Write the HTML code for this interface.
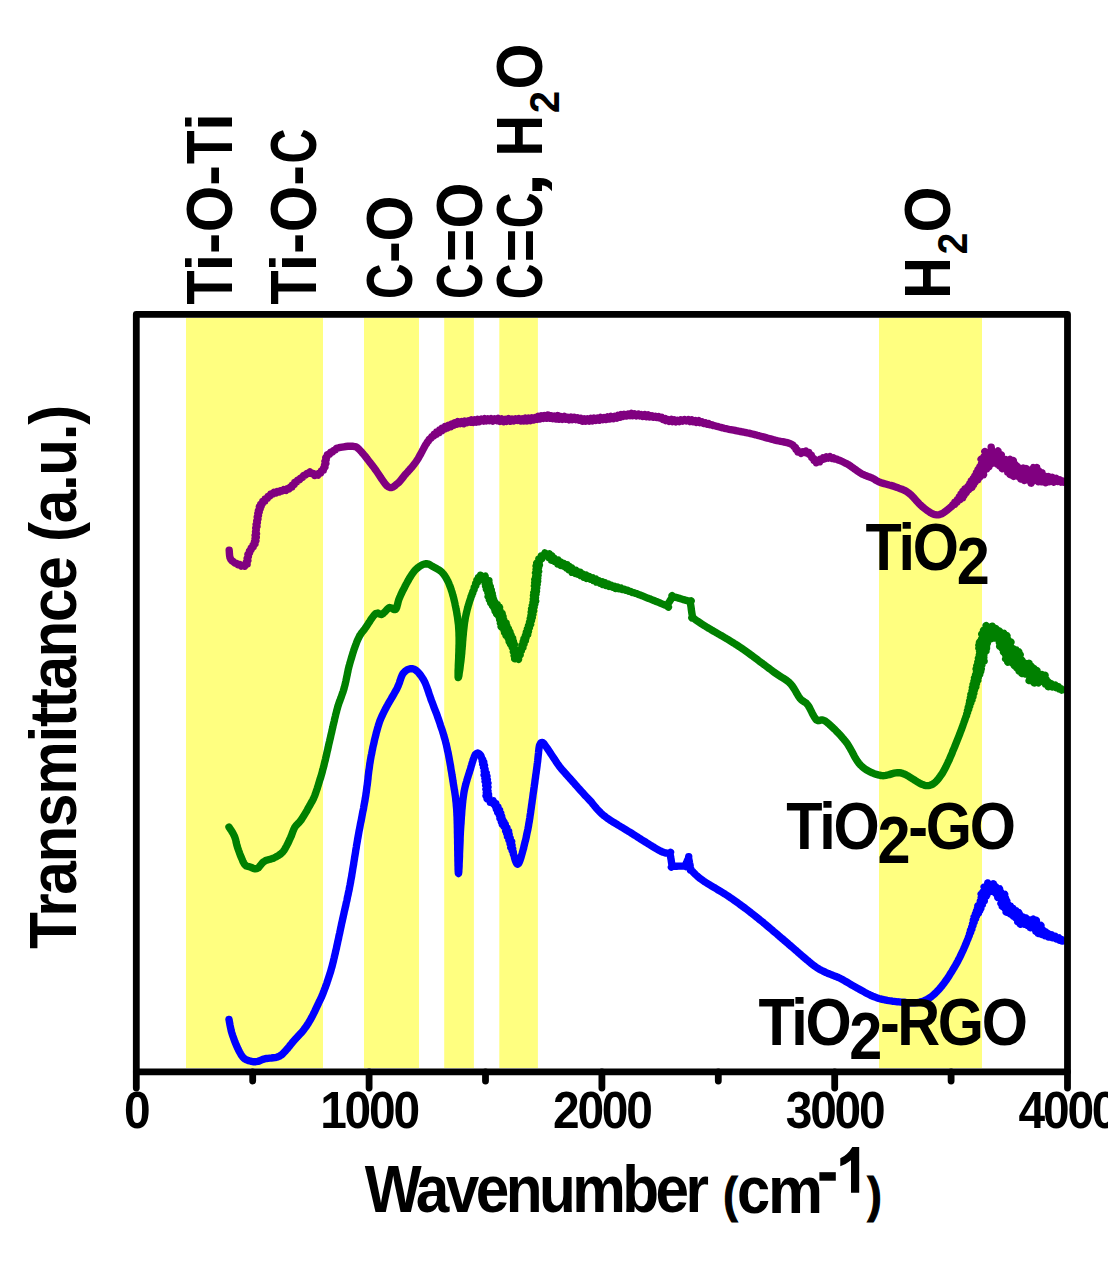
<!DOCTYPE html>
<html><head><meta charset="utf-8"><style>
html,body{margin:0;padding:0;background:#fff;width:1108px;height:1261px;overflow:hidden}
svg{position:absolute;left:0;top:0}
text{font-family:"Liberation Sans",sans-serif;font-weight:bold;fill:#000}
</style></head><body>
<svg width="1108" height="1261" viewBox="0 0 1108 1261">
<g fill="#ffff80">
<rect x="186" y="318" width="137" height="750"/>
<rect x="364" y="318" width="55" height="750"/>
<rect x="444.2" y="318" width="29.7" height="750"/>
<rect x="499.3" y="318" width="38.6" height="750"/>
<rect x="879" y="318" width="103" height="750"/>
</g>
<g fill="none" stroke-width="7.4" stroke-linejoin="round" stroke-linecap="round">
<path d="M229.2 550.2 L229.3 551.5 L229.4 553.4 L229.6 555.6 L230.0 557.7 L230.8 559.4 L231.8 560.6 L233.3 561.6 L234.7 563.0 L236.6 563.3 L237.8 564.8 L239.7 564.4 L241.2 566.1 L243.1 565.2 L244.8 566.2 L245.5 564.3 L247.1 564.0 L246.4 562.0 L247.9 560.6 L247.1 558.4 L248.4 556.6 L247.9 554.4 L249.6 553.0 L249.4 551.0 L251.0 549.9 L251.1 547.9 L253.2 547.1 L253.0 545.0 L255.0 544.0 L254.4 541.9 L255.9 540.6 L255.0 538.8 L256.3 537.2 L255.1 535.4 L256.5 533.7 L255.5 531.8 L256.3 530.0 L255.7 528.0 L257.0 526.4 L256.1 524.5 L257.4 522.8 L256.7 520.8 L258.0 519.0 L257.2 517.0 L258.5 515.4 L257.8 513.5 L259.2 512.2 L258.4 510.6 L260.2 508.8 L259.4 506.8 L261.2 506.1 L260.7 504.2 L262.6 503.4 L262.7 501.5 L264.9 501.1 L265.1 498.8 L267.4 498.4 L268.0 496.3 L270.0 496.0 L270.6 494.0 L272.7 494.0 L273.9 492.3 L275.9 493.1 L277.3 491.5 L279.2 492.1 L280.5 490.6 L282.4 491.0 L283.8 489.6 L285.8 490.5 L287.0 488.8 L289.0 489.0 L290.0 487.3 L291.9 487.1 L292.2 485.1 L294.3 484.6 L294.6 482.4 L296.8 481.9 L297.5 480.1 L299.6 479.8 L300.5 478.0 L302.6 477.5 L303.6 475.4 L305.7 475.1 L306.8 473.4 L308.7 473.4 L309.9 471.9 L311.6 473.5 L313.5 473.5 L314.6 475.5 L316.4 474.5 L317.9 475.1 L318.8 473.2 L320.8 473.0 L321.3 470.8 L323.4 470.2 L323.5 468.1 L325.0 467.1 L324.5 465.1 L325.9 463.4 L324.9 461.4 L326.2 459.7 L325.7 457.8 L327.0 456.8 L327.3 454.6 L329.6 454.2 L330.5 452.3 L332.4 452.1 L333.4 450.7 L335.3 449.9 L336.5 448.4 L339.0 447.7 L340.4 447.4 L342.1 447.1 L344.0 446.8 L345.9 446.5 L347.9 446.3 L349.9 446.2 L351.6 446.2 L353.1 446.3 L354.9 446.6 L356.1 446.9 L357.2 447.6 L358.4 448.7 L360.2 450.5 L361.0 451.3 L361.8 452.3 L362.8 453.4 L363.7 454.5 L364.7 455.7 L365.8 457.0 L366.8 458.4 L367.9 459.8 L369.0 461.2 L370.1 462.6 L371.2 464.0 L372.2 465.4 L373.3 466.8 L374.3 468.1 L375.3 469.5 L376.3 470.9 L377.4 472.5 L378.4 474.0 L379.5 475.6 L380.5 477.2 L381.6 478.8 L382.6 480.3 L383.6 481.8 L384.6 483.1 L385.6 484.3 L386.5 485.4 L387.4 486.2 L388.3 486.9 L390.2 487.6 L391.9 487.5 L393.4 486.8 L394.9 485.7 L396.3 484.4 L397.7 483.3 L399.0 482.3 L400.1 481.1 L401.1 479.8 L402.2 478.4 L403.4 476.9 L404.8 475.1 L405.7 474.1 L406.6 473.0 L407.7 471.9 L408.7 470.7 L409.8 469.5 L410.9 468.2 L412.1 466.9 L413.2 465.5 L414.3 464.1 L415.4 462.6 L416.5 461.1 L417.3 459.8 L418.2 458.5 L419.0 457.0 L419.8 455.5 L420.7 454.0 L421.5 452.4 L422.3 450.9 L423.2 449.3 L424.0 447.8 L424.8 446.3 L425.6 444.8 L426.6 443.5 L427.2 442.1 L428.3 441.2 L429.2 439.2 L431.0 438.3 L431.7 436.6 L433.7 436.2 L434.2 434.2 L436.3 434.3 L436.7 432.0 L439.1 432.6 L439.6 429.9 L441.9 430.8 L442.2 428.1 L444.6 429.0 L445.2 426.4 L447.7 427.8 L448.5 425.3 L450.9 426.7 L451.7 424.1 L453.7 425.1 L454.6 422.7 L456.6 424.2 L457.9 421.6 L460.2 423.6 L461.6 421.6 L463.6 423.7 L464.9 421.0 L466.8 422.7 L468.3 420.8 L470.1 422.2 L471.5 419.9 L473.3 422.3 L474.6 419.9 L476.2 422.0 L477.7 419.4 L479.5 421.7 L481.3 419.2 L483.5 421.0 L484.8 418.7 L486.3 420.8 L487.8 418.8 L489.5 420.7 L491.1 418.6 L492.9 421.1 L494.5 418.9 L496.4 420.5 L498.1 418.4 L500.0 421.3 L501.7 419.0 L503.5 421.6 L505.2 419.3 L506.9 421.3 L508.6 418.7 L510.3 421.2 L512.0 419.1 L513.7 420.8 L515.4 418.8 L517.1 420.3 L518.8 418.6 L520.5 420.9 L522.2 418.8 L523.9 420.9 L525.5 418.1 L527.2 420.9 L528.7 418.1 L530.5 420.5 L532.0 418.0 L533.8 419.8 L535.2 417.6 L537.1 419.3 L538.2 416.3 L540.2 418.9 L541.3 415.7 L543.3 418.3 L544.6 415.7 L546.5 418.2 L547.9 415.0 L549.8 418.2 L551.5 415.9 L553.0 418.6 L554.5 416.1 L555.9 419.0 L557.8 415.5 L559.1 419.2 L561.0 416.7 L562.4 419.3 L564.4 416.3 L565.8 419.2 L567.7 417.3 L569.1 419.8 L571.0 417.1 L572.4 419.6 L574.3 417.5 L575.7 419.5 L577.4 417.9 L579.0 420.2 L580.8 418.5 L582.4 421.2 L584.2 418.8 L585.8 421.2 L587.5 418.9 L589.2 421.1 L590.9 418.4 L592.5 420.8 L594.1 418.1 L595.8 420.3 L597.4 418.2 L599.2 420.2 L600.7 417.4 L602.6 419.5 L604.1 417.6 L606.1 419.4 L607.6 417.0 L609.7 418.9 L611.1 416.4 L613.4 418.7 L614.8 416.3 L616.9 418.0 L618.1 415.4 L620.1 417.1 L621.3 414.6 L623.0 416.4 L624.2 414.3 L626.5 416.0 L628.2 414.1 L630.0 415.5 L631.4 413.4 L632.9 415.7 L634.5 413.8 L636.2 415.8 L638.3 414.2 L639.7 415.8 L641.3 414.6 L642.8 416.4 L644.7 414.6 L646.2 416.7 L648.2 415.0 L649.8 417.0 L651.8 415.7 L653.3 417.3 L655.2 416.2 L656.6 417.5 L658.3 416.6 L659.4 417.9 L661.7 417.3 L662.9 419.5 L665.0 418.6 L665.8 420.6 L667.8 419.5 L669.1 421.3 L671.4 419.5 L672.6 421.6 L674.2 419.8 L675.8 421.8 L677.4 420.4 L679.3 421.7 L680.9 419.8 L682.8 421.1 L684.6 419.5 L686.4 421.0 L688.2 419.7 L689.9 421.5 L691.7 419.9 L693.1 421.7 L695.1 420.6 L696.5 422.3 L698.7 420.7 L700.0 422.7 L702.1 421.7 L703.5 423.5 L705.4 422.8 L706.8 424.2 L708.6 423.6 L709.9 424.9 L711.8 424.6 L713.3 425.6 L714.9 425.6 L716.3 426.4 L717.8 426.5 L719.3 427.0 L720.9 427.4 L722.5 427.8 L724.3 428.3 L726.2 428.7 L727.6 429.0 L729.0 429.3 L730.6 429.6 L732.1 429.9 L733.7 430.2 L735.4 430.5 L737.0 430.8 L738.7 431.2 L740.4 431.5 L742.2 431.8 L743.9 432.2 L745.6 432.5 L747.3 432.9 L749.0 433.2 L750.6 433.6 L752.2 434.0 L753.9 434.4 L755.6 434.8 L757.3 435.3 L759.0 435.7 L760.8 436.2 L762.5 436.7 L764.2 437.1 L765.8 437.6 L767.5 438.1 L769.1 438.5 L770.6 438.9 L772.2 439.3 L773.6 439.7 L775.0 440.1 L777.0 440.6 L778.9 441.0 L780.7 441.4 L782.5 441.7 L784.1 442.0 L785.7 442.3 L787.2 442.7 L788.6 443.1 L789.9 443.5 L791.2 444.2 L792.9 445.0 L793.9 446.6 L795.5 447.5 L795.9 449.5 L797.5 450.2 L797.9 452.0 L799.5 451.9 L801.0 453.3 L802.6 451.8 L804.2 452.6 L805.9 451.1 L807.1 453.1 L809.0 452.6 L809.3 454.7 L811.5 455.2 L811.7 457.6 L813.8 458.4 L814.0 460.6 L815.7 461.0 L816.3 462.8 L817.8 461.7 L819.6 461.8 L820.2 459.3 L822.5 459.5 L823.2 457.8 L825.0 458.7 L826.3 456.8 L828.1 458.1 L829.9 456.7 L831.7 458.5 L833.3 457.8 L834.6 459.0 L836.4 458.9 L837.9 459.9 L839.7 460.4 L841.4 461.2 L843.1 461.9 L844.8 462.8 L846.5 463.6 L848.0 464.4 L849.5 465.4 L851.0 466.4 L852.5 467.5 L854.0 468.6 L855.5 469.6 L857.0 470.7 L858.4 471.7 L859.8 472.6 L861.1 473.4 L862.9 474.4 L864.7 475.2 L866.4 475.8 L868.1 476.5 L869.6 477.0 L871.1 477.6 L872.5 478.2 L874.1 479.0 L875.3 479.8 L876.5 480.6 L877.9 481.4 L880.0 482.3 L881.2 482.7 L882.6 483.2 L884.1 483.6 L885.7 484.0 L887.4 484.5 L889.1 485.0 L890.8 485.4 L892.5 485.9 L894.2 486.4 L895.7 486.9 L897.1 487.4 L898.8 488.1 L900.4 488.7 L901.9 489.2 L903.4 489.9 L904.8 490.5 L906.2 491.3 L907.6 492.3 L909.2 493.4 L910.3 494.3 L911.4 495.3 L912.5 496.4 L913.6 497.6 L914.8 498.9 L915.9 500.2 L917.1 501.5 L918.3 502.8 L919.4 504.0 L920.6 505.2 L921.8 506.2 L922.9 507.2 L924.4 508.4 L926.0 509.6 L927.5 510.7 L929.1 511.8 L930.6 512.8 L932.2 513.6 L933.7 514.2 L935.2 514.7 L936.6 514.9 L938.1 514.9 L939.6 514.6 L941.0 514.1 L942.4 513.5 L943.8 512.6 L945.3 511.5 L946.9 510.3 L948.6 508.9 L949.6 508.1 L950.6 507.1 L951.9 506.3 L952.7 504.7 L954.6 504.4 L954.8 502.2 L957.1 502.0 L957.4 499.8 L959.9 499.7 L959.4 496.8 L962.8 497.7 L961.1 493.8 L964.5 494.7 L963.0 491.2 L966.5 492.4 L965.1 488.7 L968.9 489.4 L968.0 486.4 L972.0 487.4 L969.9 483.6 L973.7 484.4 L971.4 480.7 L975.4 481.6 L973.5 478.3 L978.0 479.5 L975.0 475.6 L980.0 476.7 L976.6 472.4 L983.6 474.6 L978.2 469.3 L984.1 470.8 L980.0 466.5 L986.9 468.7 L981.6 463.6 L989.1 466.6 L981.1 459.3 L991.5 463.5 L984.0 456.5 L992.9 460.6 L984.9 451.6 L992.4 458.1 L991.2 447.1 L992.5 458.4 L998.0 451.0 L994.0 460.6 L1001.3 454.8 L997.1 464.1 L1002.2 459.4 L999.9 466.3 L1005.8 459.7 L1002.4 468.7 L1010.0 459.4 L1006.1 469.1 L1013.3 460.6 L1007.9 472.5 L1015.0 464.4 L1010.2 474.7 L1017.4 466.5 L1013.5 476.4 L1019.8 468.5 L1018.1 476.3 L1023.3 468.1 L1021.0 479.1 L1026.3 468.6 L1024.5 480.5 L1029.4 470.0 L1028.4 480.3 L1033.5 467.7 L1031.2 483.2 L1036.8 467.6 L1035.5 480.3 L1039.2 471.1 L1038.6 481.9 L1042.1 472.8 L1042.3 481.8 L1045.4 476.5 L1045.8 482.7 L1048.6 476.6 L1049.7 481.7 L1052.4 477.3 L1053.7 482.1 L1056.3 478.5 L1057.7 481.4 L1059.8 479.9 L1061.0 482.0 L1062.5 481.0 L1063.4 482.0" stroke="#800080"/>
<path d="M229.0 827.1 L229.6 828.0 L230.5 829.3 L231.5 830.8 L232.5 832.5 L233.5 834.3 L234.4 836.1 L234.9 837.5 L235.4 838.9 L235.8 840.4 L236.1 842.0 L236.5 843.6 L236.9 845.3 L237.4 847.0 L238.0 848.7 L238.5 850.2 L239.1 851.8 L239.7 853.5 L240.4 855.3 L241.1 857.0 L241.8 858.7 L242.5 860.3 L243.1 861.8 L243.8 863.1 L244.4 864.1 L246.2 866.0 L247.9 866.4 L249.8 866.8 L251.5 867.5 L253.3 868.3 L255.2 868.8 L257.0 868.6 L258.2 867.9 L259.3 866.7 L260.4 865.3 L261.6 863.9 L262.8 862.5 L264.2 861.4 L265.7 860.6 L267.4 860.0 L269.1 859.5 L270.8 859.1 L272.6 858.5 L274.2 857.8 L275.8 857.0 L277.3 856.1 L278.9 855.2 L280.4 854.2 L281.8 852.9 L283.2 851.4 L284.1 850.2 L285.0 848.8 L285.8 847.3 L286.7 845.7 L287.5 844.1 L288.3 842.5 L289.0 840.9 L289.7 839.3 L290.4 837.9 L291.2 836.2 L291.8 834.5 L292.4 832.9 L293.0 831.3 L293.6 829.8 L294.2 828.4 L294.9 827.1 L296.0 825.6 L297.2 824.4 L298.4 823.2 L299.7 821.8 L301.2 819.9 L301.9 818.8 L302.7 817.5 L303.6 816.2 L304.5 814.7 L305.4 813.2 L306.3 811.7 L307.2 810.1 L308.0 808.6 L308.8 807.1 L309.6 805.8 L310.3 804.5 L311.2 802.8 L312.0 801.5 L312.7 800.2 L313.3 799.0 L313.9 797.6 L314.7 795.8 L315.5 793.5 L315.9 792.3 L316.3 791.1 L316.8 789.7 L317.3 788.3 L317.7 786.8 L318.2 785.3 L318.7 783.7 L319.2 782.0 L319.7 780.3 L320.3 778.6 L320.8 776.9 L321.3 775.2 L321.8 773.4 L322.3 771.7 L322.7 769.9 L323.2 768.2 L323.6 766.7 L324.0 765.3 L324.3 763.8 L324.7 762.2 L325.1 760.7 L325.5 759.1 L325.8 757.6 L326.2 756.0 L326.6 754.4 L326.9 752.8 L327.3 751.2 L327.7 749.6 L328.0 748.0 L328.4 746.4 L328.7 744.8 L329.1 743.2 L329.5 741.6 L329.8 740.1 L330.2 738.5 L330.6 736.9 L330.9 735.3 L331.3 733.7 L331.7 732.1 L332.0 730.5 L332.4 728.9 L332.8 727.2 L333.1 725.6 L333.5 724.0 L333.9 722.4 L334.3 720.8 L334.6 719.2 L335.0 717.6 L335.4 716.1 L335.7 714.6 L336.1 713.1 L336.5 711.7 L336.8 710.3 L337.2 708.9 L337.7 707.0 L338.3 705.2 L338.8 703.5 L339.4 701.9 L340.0 700.4 L340.5 698.9 L341.1 697.4 L341.6 695.9 L342.1 694.4 L342.7 692.8 L343.2 691.3 L343.7 689.6 L344.2 687.9 L344.6 686.4 L345.0 684.8 L345.4 683.2 L345.8 681.5 L346.1 679.9 L346.5 678.2 L346.8 676.5 L347.2 674.8 L347.5 673.1 L347.9 671.4 L348.2 669.7 L348.6 668.1 L349.0 666.4 L349.5 664.7 L349.9 663.1 L350.4 661.5 L350.9 659.8 L351.4 658.1 L351.9 656.4 L352.4 654.7 L352.9 652.9 L353.5 651.2 L354.0 649.6 L354.6 647.9 L355.2 646.3 L355.7 644.8 L356.3 643.3 L356.8 641.9 L357.4 640.5 L357.9 639.3 L358.9 637.3 L359.8 635.5 L360.8 634.1 L361.7 632.7 L362.7 631.5 L363.7 630.2 L364.7 628.9 L365.8 627.4 L366.7 626.0 L367.7 624.5 L368.7 622.9 L369.8 621.3 L370.9 619.6 L371.9 618.1 L373.0 616.6 L373.9 615.4 L374.9 614.3 L375.7 613.5 L377.9 613.0 L379.7 614.2 L381.7 614.5 L382.9 613.7 L384.3 612.4 L385.7 610.9 L387.0 609.5 L388.4 608.2 L389.6 607.5 L391.8 608.0 L393.8 609.5 L395.6 609.5 L396.2 608.6 L396.8 607.2 L397.2 605.6 L397.7 603.7 L398.2 601.7 L398.8 599.6 L399.6 597.6 L400.2 596.3 L400.8 594.9 L401.5 593.4 L402.2 591.9 L402.9 590.4 L403.7 588.9 L404.5 587.4 L405.2 585.9 L406.0 584.4 L406.8 583.0 L407.5 581.7 L408.5 580.0 L409.4 578.3 L410.4 576.7 L411.4 575.1 L412.4 573.7 L413.4 572.3 L414.4 571.0 L415.5 569.8 L416.8 568.6 L418.2 567.4 L419.7 566.3 L421.2 565.4 L422.7 564.7 L424.1 564.1 L425.4 563.8 L427.1 563.8 L428.6 564.2 L430.1 564.9 L431.6 565.8 L433.3 566.8 L434.6 567.5 L436.1 568.3 L437.5 569.1 L439.1 570.0 L440.5 571.0 L442.0 572.3 L443.3 573.8 L444.1 574.9 L444.9 576.0 L445.7 577.2 L446.4 578.5 L447.1 579.8 L447.9 581.2 L448.6 582.7 L449.2 584.3 L449.9 586.0 L450.6 587.8 L451.2 589.6 L451.6 590.9 L452.1 592.4 L452.5 593.9 L452.9 595.4 L453.4 597.0 L453.8 598.7 L454.2 600.3 L454.6 602.0 L455.0 603.8 L455.3 605.5 L455.7 607.2 L456.0 608.9 L456.4 610.6 L456.7 612.3 L456.9 613.9 L457.2 615.5 L457.5 617.2 L457.7 618.9 L457.9 620.5 L458.1 622.0 L458.3 623.6 L458.5 625.1 L458.6 626.7 L458.7 628.2 L458.8 629.9 L458.9 631.5 L459.0 633.3 L459.0 635.2 L459.1 637.2 L459.1 639.3 L459.1 640.7 L459.1 642.3 L459.1 643.9 L459.0 645.7 L459.0 647.6 L458.9 649.5 L458.9 651.5 L458.8 653.6 L458.7 655.6 L458.7 657.7 L458.6 659.7 L458.5 661.8 L458.4 663.7 L458.3 665.6 L458.3 667.5 L458.2 669.2 L458.1 670.8 L458.1 672.2 L458.1 673.6 L458.1 674.7 L458.1 675.7 L458.1 676.5 L458.1 677.0 L458.2 677.5 L458.4 677.4 L458.6 676.7 L458.9 675.5 L459.1 673.9 L459.4 671.8 L459.8 669.6 L460.1 667.1 L460.4 664.4 L460.8 661.8 L461.1 659.1 L461.2 657.9 L461.4 656.5 L461.5 655.1 L461.7 653.6 L461.8 652.0 L461.9 650.4 L462.1 648.8 L462.2 647.0 L462.4 645.3 L462.5 643.5 L462.6 641.7 L462.8 639.9 L462.9 638.0 L463.1 636.2 L463.3 634.4 L463.4 632.6 L463.6 630.8 L463.8 629.0 L464.0 627.3 L464.2 625.6 L464.4 623.9 L464.6 622.4 L464.9 620.8 L465.1 619.4 L465.4 617.5 L465.8 615.7 L466.2 613.9 L466.6 612.2 L467.0 610.5 L467.4 608.8 L467.9 607.1 L468.3 605.5 L468.8 604.0 L469.3 602.4 L469.7 600.9 L470.2 599.5 L470.8 598.1 L471.0 596.6 L471.8 595.4 L471.9 594.0 L472.8 592.9 L472.8 591.5 L474.1 589.6 L474.2 587.3 L475.8 585.7 L475.6 583.4 L477.5 582.3 L476.9 580.0 L479.1 579.5 L478.5 577.4 L481.0 578.3 L480.7 575.3 L482.2 577.5 L485.2 576.2 L484.1 580.3 L488.9 580.7 L485.3 583.6 L489.2 583.8 L485.7 586.3 L490.3 587.0 L486.5 589.5 L491.3 590.4 L488.0 593.0 L492.2 593.8 L488.2 596.7 L492.8 596.8 L489.5 600.0 L493.7 599.7 L490.9 603.1 L495.0 602.5 L492.6 605.9 L497.4 604.8 L494.4 608.6 L499.6 607.3 L495.3 611.5 L500.1 610.9 L496.8 614.2 L502.2 613.7 L499.0 616.7 L503.1 617.0 L499.8 619.9 L503.8 620.3 L500.5 623.3 L506.2 623.1 L501.2 626.8 L507.1 626.4 L503.7 629.6 L508.6 629.2 L504.7 632.8 L510.0 632.2 L506.2 635.8 L511.2 635.4 L508.4 638.6 L512.7 638.5 L509.3 641.8 L513.5 641.7 L510.7 644.5 L514.4 644.6 L512.4 647.5 L514.9 649.1 L513.4 651.7 L515.8 653.2 L514.2 655.6 L516.6 656.5 L514.8 658.8 L516.7 657.9 L518.6 659.3 L518.0 656.6 L520.2 654.8 L519.5 651.8 L521.4 650.8 L520.9 648.8 L522.9 647.6 L521.9 645.2 L524.0 644.0 L523.2 641.7 L525.3 640.7 L524.1 638.6 L526.1 637.5 L525.4 635.5 L527.6 634.5 L526.4 632.3 L528.4 631.3 L527.4 629.0 L529.4 627.8 L528.5 625.6 L530.6 624.4 L529.5 622.1 L531.4 620.6 L530.3 618.7 L532.2 617.5 L531.0 615.6 L532.8 614.3 L531.3 612.3 L533.6 610.8 L531.7 608.7 L534.0 607.1 L532.4 605.4 L534.7 604.1 L533.1 602.3 L535.6 601.0 L533.4 599.0 L535.4 597.6 L533.6 595.6 L535.9 594.2 L533.9 592.4 L536.4 591.1 L534.7 589.4 L536.6 587.8 L534.5 585.9 L537.1 584.4 L534.8 582.6 L537.6 581.2 L534.9 579.4 L537.7 578.1 L535.8 576.4 L538.0 575.1 L535.6 573.0 L538.6 571.4 L536.2 569.4 L538.4 567.8 L536.2 565.9 L539.4 564.9 L536.8 562.9 L539.6 561.3 L538.9 558.8 L541.7 558.6 L541.4 555.9 L543.7 556.3 L544.9 552.9 L547.5 556.1 L549.4 553.8 L549.3 557.9 L552.0 556.0 L551.6 560.2 L554.6 558.6 L555.0 561.5 L558.1 560.2 L557.9 564.1 L561.1 562.4 L561.1 565.6 L564.0 563.7 L564.6 566.3 L567.3 564.9 L566.8 568.2 L569.5 566.7 L569.1 569.9 L572.0 568.2 L572.1 572.3 L575.9 570.3 L575.7 573.5 L577.9 571.7 L578.2 574.4 L580.6 572.5 L580.9 575.6 L583.2 574.3 L583.7 577.2 L586.3 575.2 L586.8 578.4 L589.4 576.7 L590.2 579.2 L592.7 577.8 L593.5 580.4 L595.9 579.1 L596.6 582.1 L598.9 580.9 L600.0 583.1 L602.3 581.8 L603.0 584.6 L605.3 583.0 L606.2 585.5 L608.4 584.1 L609.4 586.4 L611.4 585.4 L612.6 587.2 L614.5 586.4 L615.6 588.5 L617.7 587.2 L619.0 588.8 L621.0 588.1 L622.3 589.6 L624.2 589.1 L625.6 590.3 L627.5 590.1 L628.8 591.4 L630.7 591.4 L632.2 592.5 L634.0 592.6 L635.3 593.4 L637.0 593.7 L638.5 594.5 L640.2 595.1 L641.9 595.7 L643.6 596.4 L645.3 597.1 L647.0 597.8 L648.8 598.5 L650.5 599.1 L652.2 599.8 L653.9 600.5 L655.5 601.2 L657.1 601.8 L658.6 602.4 L660.1 603.0 L661.4 603.6 L662.7 604.1 L663.9 604.6 L664.9 605.0 L665.9 605.4 L666.7 605.7 L668.4 607.1 L666.7 605.7 L667.4 604.6 L668.5 603.0 L669.8 601.1 L671.0 599.2 L672.1 597.6 L672.8 596.5 L672.1 595.6 L672.8 596.5 L673.8 596.8 L675.1 597.2 L676.8 597.6 L678.6 598.2 L680.5 598.7 L682.5 599.3 L684.4 599.8 L686.2 600.4 L687.9 600.8 L689.2 601.2 L690.2 601.5 L691.1 600.8 L690.2 601.5 L690.3 602.5 L690.5 603.9 L690.8 605.6 L691.1 607.5 L691.3 609.4 L691.6 611.4 L691.9 613.3 L692.2 615.0 L692.4 616.4 L692.5 617.4 L691.9 617.9 L692.5 617.4 L693.3 617.9 L694.1 618.6 L695.0 619.3 L696.2 620.2 L697.6 621.2 L699.4 622.4 L701.6 623.9 L704.3 625.6 L705.3 626.2 L706.3 626.8 L707.4 627.5 L708.6 628.2 L709.8 628.9 L711.1 629.7 L712.5 630.5 L713.8 631.3 L715.2 632.1 L716.7 632.9 L718.2 633.8 L719.7 634.7 L721.2 635.5 L722.7 636.4 L724.3 637.4 L725.9 638.3 L727.4 639.2 L729.0 640.2 L730.5 641.1 L732.1 642.1 L733.6 643.0 L735.1 644.0 L736.6 644.9 L738.1 645.9 L739.5 646.8 L740.8 647.7 L742.2 648.6 L743.5 649.5 L744.9 650.5 L746.3 651.5 L747.7 652.5 L749.1 653.5 L750.5 654.6 L752.0 655.6 L753.4 656.7 L754.8 657.7 L756.2 658.8 L757.6 659.8 L759.0 660.9 L760.4 661.9 L761.8 662.9 L763.1 664.0 L764.4 664.9 L765.7 665.9 L767.0 666.9 L768.2 667.8 L769.4 668.7 L770.6 669.5 L771.7 670.4 L772.7 671.2 L773.7 671.9 L774.7 672.6 L776.9 674.1 L778.8 675.4 L780.4 676.5 L781.9 677.4 L783.3 678.2 L784.5 679.0 L785.7 679.7 L786.7 680.5 L787.8 681.3 L788.9 682.2 L790.0 683.3 L791.1 684.5 L792.2 685.9 L793.2 687.4 L794.2 688.9 L795.1 690.4 L796.0 691.9 L796.8 693.4 L797.7 694.9 L798.5 696.2 L799.3 697.4 L800.1 698.5 L801.5 700.0 L802.8 700.9 L804.0 701.7 L805.2 702.4 L806.4 703.3 L807.7 704.8 L808.5 706.0 L809.4 707.5 L810.2 709.1 L811.1 710.9 L812.0 712.7 L812.9 714.4 L813.8 716.1 L814.7 717.6 L815.6 718.9 L816.5 719.9 L818.1 720.7 L819.5 720.5 L821.0 720.0 L822.9 720.0 L825.4 721.2 L826.3 721.9 L827.3 722.7 L828.4 723.6 L829.5 724.6 L830.7 725.6 L831.9 726.8 L833.2 728.0 L834.5 729.2 L835.8 730.5 L837.1 731.9 L838.4 733.2 L839.7 734.6 L841.0 736.0 L842.2 737.4 L843.4 738.7 L844.5 740.1 L845.6 741.4 L846.6 742.7 L847.6 744.1 L848.5 745.6 L849.4 747.1 L850.3 748.6 L851.1 750.2 L852.0 751.7 L852.8 753.3 L853.6 754.8 L854.4 756.3 L855.3 757.8 L856.1 759.2 L857.0 760.6 L857.9 761.9 L858.8 763.2 L859.8 764.3 L860.8 765.4 L862.1 766.6 L863.4 767.7 L864.8 768.7 L866.2 769.7 L867.6 770.5 L869.1 771.4 L870.6 772.1 L872.1 772.8 L873.6 773.4 L875.1 773.9 L876.6 774.4 L878.1 774.8 L879.5 775.2 L881.0 775.5 L882.7 775.7 L884.3 775.6 L885.9 775.4 L887.5 775.0 L889.2 774.6 L890.8 774.1 L892.4 773.6 L894.1 773.2 L895.8 772.9 L897.5 772.7 L899.3 772.7 L901.2 773.0 L902.6 773.4 L904.0 773.9 L905.5 774.6 L907.0 775.4 L908.6 776.3 L910.2 777.3 L911.8 778.3 L913.4 779.3 L915.0 780.4 L916.6 781.4 L918.1 782.3 L919.7 783.2 L921.1 784.0 L922.6 784.6 L924.0 785.1 L925.3 785.5 L926.5 785.6 L928.3 785.6 L929.9 785.3 L931.4 784.8 L932.7 784.2 L934.0 783.3 L935.3 782.2 L936.5 781.0 L937.8 779.6 L939.0 778.0 L940.3 776.2 L941.6 774.3 L942.3 773.3 L943.0 772.1 L943.7 770.9 L944.4 769.7 L945.1 768.3 L945.8 767.0 L946.5 765.5 L947.2 764.0 L947.9 762.5 L948.6 760.9 L949.4 759.4 L950.1 757.7 L950.8 756.1 L951.5 754.5 L952.2 752.8 L952.8 751.1 L953.5 749.5 L954.2 747.8 L954.9 746.2 L955.5 744.6 L956.2 743.0 L956.8 741.4 L957.4 739.9 L958.0 738.4 L958.6 736.9 L959.2 735.4 L959.8 733.9 L960.3 732.4 L960.9 730.9 L961.5 729.4 L962.0 727.8 L962.6 726.3 L963.1 724.8 L963.7 723.2 L964.2 721.7 L964.8 720.1 L965.3 718.6 L965.8 717.0 L966.6 715.5 L966.7 713.9 L967.6 712.4 L967.4 710.6 L968.7 709.3 L968.2 707.4 L969.7 706.1 L969.1 704.2 L970.7 703.0 L969.7 701.0 L971.9 699.9 L970.5 697.7 L972.9 696.6 L971.0 694.3 L973.8 693.3 L972.1 691.0 L974.4 689.9 L972.5 687.6 L975.8 686.7 L973.2 684.2 L976.5 683.4 L974.1 681.0 L977.8 680.2 L974.6 677.7 L978.3 677.0 L975.7 674.7 L979.7 674.1 L976.6 671.8 L980.7 671.3 L976.2 668.8 L981.3 668.5 L976.9 665.5 L981.9 664.5 L977.9 661.8 L984.1 660.9 L978.5 658.2 L983.8 657.2 L979.4 654.8 L984.0 653.7 L979.7 651.4 L986.0 650.8 L978.9 648.1 L986.6 647.9 L978.9 645.1 L986.7 645.2 L979.5 642.2 L987.4 642.9 L981.6 638.8 L990.1 639.1 L981.8 634.0 L991.7 636.1 L983.6 630.1 L991.6 634.2 L986.1 625.6 L990.9 636.3 L992.0 626.3 L989.2 635.9 L995.8 628.6 L991.1 636.4 L999.4 631.1 L994.5 638.1 L1003.8 633.3 L998.9 639.8 L1007.0 635.9 L999.5 642.8 L1008.0 639.6 L999.8 646.3 L1011.0 642.1 L1002.4 648.8 L1010.7 646.3 L1003.6 652.1 L1013.3 648.7 L1005.7 655.0 L1016.3 650.2 L1005.7 659.0 L1018.8 651.8 L1007.9 662.2 L1020.2 654.6 L1012.4 663.2 L1020.1 658.3 L1014.6 665.7 L1021.9 660.2 L1017.0 668.1 L1023.1 662.9 L1019.2 671.1 L1025.8 663.6 L1022.0 673.6 L1029.1 663.4 L1025.7 674.1 L1031.3 666.2 L1028.8 675.1 L1034.1 668.6 L1029.1 680.6 L1037.0 670.7 L1032.0 681.0 L1038.5 674.3 L1034.2 682.9 L1042.0 674.6 L1038.2 682.9 L1045.1 675.3 L1043.0 681.7 L1046.3 679.6 L1045.6 684.1 L1048.5 682.1 L1048.3 686.7 L1051.6 684.0 L1052.4 687.0 L1055.3 685.1 L1056.2 687.6 L1058.6 686.7 L1059.4 689.0 L1061.1 688.7 L1061.8 690.1 L1063.0 689.7" stroke="#008000"/>
<path d="M229.0 1019.4 L229.2 1020.4 L229.4 1021.7 L229.7 1023.3 L230.0 1025.0 L230.4 1026.9 L230.8 1028.8 L231.2 1030.7 L231.7 1032.5 L232.2 1034.1 L232.7 1035.7 L233.3 1037.3 L233.9 1039.0 L234.5 1040.7 L235.1 1042.3 L235.8 1043.9 L236.4 1045.4 L237.1 1046.9 L237.9 1048.7 L238.8 1050.5 L239.7 1052.2 L240.6 1053.8 L241.5 1055.3 L242.5 1056.7 L243.5 1057.8 L245.0 1059.0 L246.7 1059.9 L248.4 1060.6 L250.1 1061.0 L251.6 1061.4 L253.8 1061.8 L255.8 1061.7 L257.9 1061.4 L259.5 1060.9 L261.1 1060.2 L262.9 1059.4 L265.1 1058.7 L266.5 1058.5 L268.0 1058.3 L269.7 1058.1 L271.4 1058.0 L273.2 1057.8 L274.9 1057.6 L276.4 1057.3 L277.8 1056.9 L279.6 1056.1 L281.0 1055.2 L282.3 1054.2 L283.5 1052.9 L285.0 1051.4 L286.0 1050.3 L287.1 1049.1 L288.2 1047.7 L289.4 1046.3 L290.5 1044.8 L291.7 1043.4 L292.9 1041.9 L294.0 1040.6 L295.1 1039.3 L296.3 1038.1 L297.4 1036.9 L298.6 1035.7 L299.7 1034.4 L300.9 1033.2 L302.0 1032.0 L303.0 1030.7 L304.0 1029.4 L304.9 1028.1 L305.9 1026.9 L306.8 1025.6 L307.6 1024.3 L308.5 1022.9 L309.4 1021.4 L310.3 1019.9 L311.0 1018.6 L311.8 1017.2 L312.5 1015.8 L313.2 1014.4 L313.9 1012.9 L314.7 1011.4 L315.4 1009.9 L316.1 1008.4 L316.8 1006.9 L317.5 1005.4 L318.2 1004.0 L318.8 1002.6 L319.5 1001.3 L320.1 1000.0 L320.7 998.7 L321.4 997.3 L322.0 995.8 L322.7 994.2 L323.4 992.4 L324.1 990.5 L324.5 989.3 L325.0 988.1 L325.5 986.8 L325.9 985.6 L326.4 984.3 L326.9 983.0 L327.3 981.6 L327.8 980.2 L328.3 978.7 L328.8 977.2 L329.3 975.6 L329.8 974.0 L330.4 972.3 L330.9 970.5 L331.4 968.6 L332.0 966.7 L332.5 964.6 L332.8 963.3 L333.2 962.0 L333.5 960.6 L333.8 959.2 L334.2 957.8 L334.5 956.3 L334.9 954.7 L335.3 953.1 L335.6 951.5 L336.0 949.9 L336.4 948.3 L336.7 946.6 L337.1 944.9 L337.5 943.2 L337.8 941.5 L338.2 939.8 L338.6 938.1 L338.9 936.4 L339.3 934.7 L339.7 933.0 L340.0 931.3 L340.4 929.7 L340.7 928.0 L341.1 926.4 L341.4 924.8 L341.7 923.3 L342.1 921.8 L342.4 920.3 L342.7 918.9 L343.1 917.1 L343.5 915.3 L343.9 913.6 L344.2 912.0 L344.6 910.3 L345.0 908.8 L345.3 907.2 L345.7 905.7 L346.0 904.2 L346.3 902.6 L346.7 901.1 L347.0 899.7 L347.3 898.1 L347.6 896.6 L348.0 895.1 L348.3 893.5 L348.6 892.0 L349.0 890.3 L349.3 888.7 L349.6 887.0 L350.0 885.2 L350.3 883.4 L350.6 881.9 L350.8 880.4 L351.1 878.9 L351.4 877.4 L351.7 875.8 L351.9 874.2 L352.2 872.6 L352.5 870.9 L352.7 869.3 L353.0 867.6 L353.3 865.9 L353.6 864.3 L353.8 862.6 L354.1 860.9 L354.4 859.2 L354.6 857.5 L354.9 855.8 L355.2 854.1 L355.5 852.4 L355.7 850.7 L356.0 849.0 L356.3 847.3 L356.5 845.7 L356.8 844.1 L357.1 842.4 L357.4 840.8 L357.6 839.3 L357.9 837.7 L358.2 836.0 L358.5 834.3 L358.8 832.6 L359.1 830.9 L359.5 829.2 L359.8 827.5 L360.1 825.9 L360.4 824.2 L360.7 822.6 L361.1 821.0 L361.4 819.3 L361.7 817.7 L362.0 816.1 L362.3 814.5 L362.6 812.9 L362.9 811.3 L363.3 809.7 L363.6 808.1 L363.8 806.6 L364.1 805.0 L364.4 803.4 L364.7 801.8 L365.0 800.2 L365.2 798.7 L365.5 797.1 L365.8 795.4 L366.0 793.7 L366.3 792.0 L366.5 790.3 L366.7 788.6 L366.9 786.9 L367.2 785.2 L367.4 783.5 L367.6 781.8 L367.8 780.1 L368.0 778.5 L368.1 776.8 L368.3 775.1 L368.5 773.5 L368.7 771.8 L368.9 770.2 L369.2 768.6 L369.4 767.0 L369.6 765.4 L369.8 763.8 L370.1 762.2 L370.3 760.7 L370.6 759.1 L370.9 757.4 L371.2 755.7 L371.6 754.0 L371.9 752.3 L372.2 750.6 L372.6 748.9 L372.9 747.2 L373.3 745.5 L373.7 743.8 L374.1 742.2 L374.4 740.5 L374.8 738.9 L375.2 737.3 L375.6 735.8 L376.0 734.3 L376.3 732.8 L376.7 731.4 L377.1 730.0 L377.5 728.6 L377.8 727.3 L378.2 726.1 L378.8 724.1 L379.4 722.3 L380.0 720.6 L380.6 719.1 L381.2 717.7 L381.8 716.4 L382.4 715.1 L383.0 713.8 L383.6 712.6 L384.3 711.2 L385.0 709.8 L385.8 708.3 L386.5 706.9 L387.3 705.5 L388.1 704.0 L388.9 702.6 L389.8 701.1 L390.7 699.6 L391.6 698.0 L392.5 696.5 L393.3 695.1 L394.2 693.6 L395.0 692.1 L395.8 690.7 L396.5 689.4 L397.2 688.1 L398.0 686.3 L398.7 684.5 L399.4 682.8 L399.9 681.1 L400.5 679.4 L401.0 677.9 L401.6 676.4 L402.2 675.0 L402.8 673.8 L403.6 672.8 L405.1 671.3 L406.7 670.1 L408.4 669.2 L410.2 668.7 L412.0 668.6 L413.7 669.0 L414.8 669.6 L416.0 670.3 L417.2 671.3 L418.4 672.5 L419.5 673.9 L420.7 675.4 L421.8 677.0 L422.9 678.7 L423.9 680.4 L424.6 681.7 L425.2 683.0 L425.8 684.5 L426.4 686.0 L427.0 687.6 L427.6 689.2 L428.1 690.8 L428.7 692.5 L429.2 694.2 L429.8 695.8 L430.4 697.5 L430.9 699.1 L431.5 700.7 L432.1 702.2 L432.7 703.8 L433.3 705.3 L433.8 706.8 L434.4 708.3 L435.0 709.8 L435.6 711.3 L436.2 712.8 L436.8 714.4 L437.3 716.0 L437.9 717.6 L438.5 719.3 L439.1 721.0 L439.6 722.4 L440.1 723.9 L440.5 725.3 L441.0 726.8 L441.5 728.2 L442.0 729.7 L442.5 731.2 L443.0 732.8 L443.5 734.3 L443.9 735.9 L444.4 737.6 L444.9 739.3 L445.4 741.0 L445.8 742.7 L446.3 744.5 L446.7 746.4 L447.0 747.8 L447.3 749.2 L447.6 750.7 L448.0 752.2 L448.3 753.8 L448.6 755.4 L448.9 757.0 L449.2 758.6 L449.5 760.3 L449.8 761.9 L450.1 763.6 L450.4 765.2 L450.7 766.9 L450.9 768.6 L451.2 770.3 L451.5 771.9 L451.8 773.6 L452.0 775.2 L452.3 776.8 L452.5 778.3 L452.8 779.9 L453.0 781.4 L453.3 783.1 L453.5 784.7 L453.8 786.2 L454.0 787.6 L454.2 789.0 L454.5 790.3 L454.7 791.7 L454.9 793.0 L455.1 794.4 L455.3 795.7 L455.5 797.2 L455.7 798.7 L455.8 800.2 L456.0 801.9 L456.2 803.6 L456.3 805.5 L456.5 807.5 L456.7 809.7 L456.8 812.0 L456.9 813.3 L456.9 814.6 L457.0 816.1 L457.1 817.7 L457.1 819.4 L457.2 821.1 L457.2 822.9 L457.3 824.8 L457.3 826.7 L457.4 828.7 L457.4 830.7 L457.4 832.8 L457.5 834.9 L457.5 837.0 L457.6 839.1 L457.6 841.2 L457.6 843.3 L457.7 845.4 L457.7 847.5 L457.7 849.5 L457.8 851.6 L457.8 853.5 L457.8 855.5 L457.9 857.4 L457.9 859.2 L457.9 860.9 L458.0 862.6 L458.0 864.1 L458.0 865.6 L458.1 867.0 L458.1 868.2 L458.1 869.4 L458.2 870.4 L458.2 871.3 L458.3 872.1 L458.3 872.7 L458.3 873.1 L458.4 873.4 L458.5 873.5 L458.5 873.4 L458.6 873.0 L458.7 872.4 L458.8 871.5 L458.8 870.4 L458.9 869.2 L459.0 867.7 L459.1 866.1 L459.1 864.4 L459.2 862.5 L459.3 860.6 L459.4 858.5 L459.5 856.3 L459.5 854.1 L459.6 851.9 L459.7 849.6 L459.8 847.3 L459.9 845.0 L460.0 842.8 L460.1 840.6 L460.1 838.4 L460.2 836.3 L460.3 834.3 L460.4 832.4 L460.5 830.6 L460.6 828.9 L460.7 827.4 L460.8 825.5 L461.0 823.7 L461.1 821.8 L461.2 820.0 L461.3 818.3 L461.4 816.5 L461.6 814.8 L461.7 813.1 L461.8 811.5 L461.9 809.9 L462.1 808.3 L462.2 806.7 L462.4 805.1 L462.5 803.6 L462.7 802.1 L462.8 800.6 L463.0 799.2 L463.2 797.8 L463.4 796.3 L463.6 795.0 L463.8 793.6 L464.1 791.6 L464.5 789.7 L464.9 787.8 L465.3 786.1 L465.8 784.3 L466.2 782.7 L466.7 781.0 L467.1 779.5 L467.6 777.9 L468.1 776.4 L468.5 774.9 L469.0 773.5 L469.5 772.0 L469.9 770.6 L470.5 768.8 L471.0 766.9 L471.6 765.0 L472.1 763.1 L472.7 761.3 L473.2 759.6 L473.8 758.1 L474.3 756.7 L474.9 755.5 L475.4 754.5 L476.0 753.8 L477.6 753.0 L479.2 753.6 L480.8 755.4 L481.8 758.6 L482.7 759.4 L482.2 761.0 L483.7 762.1 L482.7 764.0 L484.5 765.4 L483.5 767.5 L485.1 769.1 L484.2 771.2 L486.1 772.8 L484.2 775.0 L486.9 776.4 L485.0 778.5 L487.3 779.8 L485.2 781.6 L487.9 783.3 L485.8 785.5 L487.9 787.2 L486.0 789.2 L487.9 790.9 L486.4 792.7 L488.4 794.2 L486.1 796.0 L488.7 796.8 L487.2 798.9 L490.0 799.7 L490.3 802.2 L493.3 800.9 L493.5 803.8 L495.9 803.6 L495.3 806.0 L497.9 806.7 L496.5 809.3 L499.5 810.0 L497.8 812.6 L500.7 813.3 L499.5 815.4 L501.6 816.4 L500.1 818.5 L502.5 819.4 L501.4 821.6 L503.9 822.1 L502.4 824.5 L505.3 824.5 L504.3 826.9 L506.9 827.8 L505.7 830.9 L508.6 831.3 L506.8 833.5 L509.1 834.5 L507.6 836.7 L510.1 838.0 L509.0 840.2 L511.6 841.5 L510.1 843.9 L512.0 845.3 L510.8 847.5 L512.7 848.8 L512.1 850.6 L513.3 851.8 L513.3 854.1 L514.2 856.1 L514.6 858.2 L515.2 860.1 L515.8 861.7 L516.4 863.0 L516.9 863.8 L517.5 864.2 L518.1 864.0 L518.8 863.3 L519.4 862.0 L520.0 860.4 L520.7 858.4 L521.4 856.0 L522.1 853.5 L522.4 852.3 L522.8 851.0 L523.2 849.6 L523.6 848.2 L523.9 846.6 L524.3 845.0 L524.7 843.4 L525.1 841.7 L525.6 840.0 L526.0 838.2 L526.4 836.4 L526.7 834.6 L527.1 832.8 L527.5 831.0 L527.9 829.2 L528.2 827.4 L528.5 825.9 L528.7 824.4 L529.0 822.8 L529.3 821.3 L529.5 819.7 L529.8 818.1 L530.0 816.6 L530.2 815.0 L530.5 813.3 L530.7 811.7 L530.9 810.1 L531.2 808.4 L531.4 806.8 L531.6 805.1 L531.9 803.4 L532.1 801.8 L532.3 800.1 L532.6 798.4 L532.8 796.7 L533.0 795.1 L533.2 793.5 L533.5 791.9 L533.7 790.2 L533.9 788.5 L534.2 786.8 L534.4 785.1 L534.7 783.4 L534.9 781.6 L535.1 779.9 L535.4 778.2 L535.6 776.5 L535.8 774.8 L536.1 773.1 L536.3 771.5 L536.5 770.0 L536.7 768.5 L536.9 767.0 L537.1 765.6 L537.2 764.3 L537.4 763.0 L537.7 760.7 L537.9 758.6 L538.1 756.7 L538.3 754.8 L538.5 753.1 L538.6 751.6 L538.8 750.1 L538.9 748.8 L539.1 747.6 L539.3 746.5 L539.5 745.5 L540.9 742.7 L542.5 742.5 L543.5 743.1 L544.6 744.5 L546.0 746.5 L546.8 747.6 L547.7 748.9 L548.6 750.3 L549.6 751.8 L550.6 753.4 L551.7 755.0 L552.7 756.5 L553.6 757.8 L554.5 759.2 L555.4 760.5 L556.3 761.9 L557.2 763.3 L558.2 764.7 L559.3 766.2 L560.4 767.6 L561.3 768.8 L562.3 769.9 L563.3 771.1 L564.4 772.3 L565.5 773.5 L566.6 774.8 L567.7 776.0 L568.8 777.2 L570.0 778.5 L571.1 779.8 L572.2 781.0 L573.3 782.3 L574.5 783.6 L575.7 785.0 L576.9 786.3 L578.1 787.7 L579.3 789.0 L580.4 790.3 L581.5 791.5 L582.5 792.6 L583.4 793.6 L584.7 795.1 L585.7 796.1 L586.6 797.0 L587.5 797.9 L588.5 799.0 L590.0 800.6 L590.9 801.6 L591.8 802.6 L592.7 803.8 L593.7 805.0 L594.8 806.3 L595.9 807.6 L597.0 809.0 L598.3 810.3 L599.6 811.7 L601.0 813.1 L602.5 814.5 L604.1 815.8 L605.2 816.6 L606.3 817.5 L607.5 818.3 L608.7 819.1 L609.9 820.0 L611.2 820.8 L612.5 821.7 L613.9 822.5 L615.3 823.3 L616.7 824.2 L618.1 825.1 L619.5 825.9 L621.0 826.8 L622.5 827.7 L624.0 828.6 L625.4 829.5 L626.9 830.4 L628.4 831.3 L629.9 832.2 L631.2 833.0 L632.6 833.9 L634.0 834.8 L635.4 835.7 L636.9 836.6 L638.4 837.6 L640.0 838.6 L641.5 839.6 L643.1 840.6 L644.6 841.5 L646.2 842.5 L647.7 843.5 L649.2 844.4 L650.7 845.3 L652.1 846.2 L653.5 847.0 L654.8 847.8 L656.1 848.6 L657.3 849.3 L658.4 849.9 L659.4 850.5 L660.4 851.0 L663.3 852.3 L665.5 853.0 L667.1 853.2 L668.3 853.1 L669.2 853.0 L670.0 853.0 L670.5 852.3 L670.0 853.0 L670.2 854.1 L670.4 855.7 L670.7 857.6 L671.1 859.6 L671.4 861.7 L671.7 863.6 L671.9 865.2 L672.1 866.3 L671.4 867.1 L672.1 866.3 L673.2 866.3 L674.7 866.2 L676.6 866.2 L678.5 866.1 L680.5 866.1 L682.4 866.1 L683.9 866.0 L685.0 866.0 L685.6 866.5 L685.0 866.0 L685.5 864.8 L686.4 863.0 L687.2 861.0 L688.1 859.2 L688.6 858.0 L688.7 856.8 L688.6 858.0 L688.8 859.2 L689.2 860.9 L689.5 862.9 L690.0 864.9 L690.3 866.9 L690.7 868.6 L690.9 869.8 L690.3 869.9 L690.9 869.8 L691.6 870.5 L692.4 871.3 L693.3 872.3 L694.4 873.4 L695.6 874.6 L697.0 875.9 L698.7 877.3 L700.5 878.8 L702.6 880.3 L703.6 881.0 L704.8 881.8 L705.9 882.5 L707.2 883.3 L708.5 884.1 L709.8 884.9 L711.3 885.8 L712.7 886.7 L714.2 887.5 L715.7 888.4 L717.2 889.3 L718.7 890.3 L720.3 891.2 L721.8 892.1 L723.4 893.1 L724.9 894.0 L726.4 895.0 L727.9 896.0 L729.4 896.9 L730.8 897.9 L732.1 898.8 L733.4 899.7 L734.6 900.6 L735.9 901.5 L737.2 902.4 L738.4 903.3 L739.7 904.2 L741.0 905.2 L742.2 906.1 L743.5 907.0 L744.8 908.0 L746.0 908.9 L747.3 909.9 L748.6 910.9 L749.9 911.9 L751.1 912.9 L752.4 913.9 L753.7 914.9 L755.0 915.9 L756.3 917.0 L757.7 918.0 L759.0 919.1 L760.2 920.1 L761.5 921.1 L762.8 922.1 L764.0 923.2 L765.3 924.3 L766.6 925.4 L767.9 926.5 L769.3 927.6 L770.6 928.7 L771.9 929.8 L773.2 931.0 L774.5 932.1 L775.9 933.2 L777.2 934.3 L778.5 935.5 L779.8 936.6 L781.1 937.7 L782.3 938.8 L783.6 939.8 L784.8 940.9 L786.0 941.9 L787.2 942.9 L788.4 943.9 L789.5 944.9 L790.9 946.1 L792.3 947.3 L793.7 948.5 L795.1 949.7 L796.5 950.9 L797.8 952.1 L799.1 953.2 L800.4 954.4 L801.7 955.5 L803.0 956.6 L804.2 957.6 L805.4 958.7 L806.6 959.7 L807.8 960.6 L808.9 961.6 L809.9 962.4 L811.0 963.3 L812.0 964.1 L812.9 964.8 L814.9 966.3 L816.6 967.5 L818.0 968.4 L819.3 969.2 L820.5 969.9 L821.8 970.5 L823.1 971.1 L824.7 971.9 L826.1 972.6 L827.5 973.2 L829.0 973.8 L830.5 974.4 L832.1 975.0 L833.6 975.6 L835.2 976.2 L836.8 976.8 L838.4 977.5 L840.0 978.3 L841.4 979.0 L842.9 979.8 L844.3 980.6 L845.8 981.5 L847.2 982.3 L848.7 983.2 L850.2 984.1 L851.7 985.0 L853.3 985.9 L854.9 986.8 L856.6 987.7 L857.9 988.4 L859.3 989.2 L860.7 990.0 L862.1 990.8 L863.6 991.6 L865.0 992.4 L866.5 993.2 L868.0 994.0 L869.5 994.7 L871.0 995.5 L872.6 996.2 L874.2 996.8 L875.8 997.4 L877.4 998.0 L878.9 998.5 L880.5 998.9 L882.2 999.3 L883.9 999.7 L885.6 1000.0 L887.3 1000.4 L889.0 1000.7 L890.7 1000.9 L892.4 1001.2 L894.2 1001.4 L895.9 1001.6 L897.5 1001.8 L899.2 1001.9 L900.8 1002.1 L902.3 1002.2 L904.2 1002.3 L906.0 1002.5 L907.9 1002.6 L909.7 1002.7 L911.4 1002.7 L913.2 1002.7 L914.9 1002.7 L916.6 1002.6 L918.2 1002.4 L919.8 1002.1 L921.4 1001.7 L923.0 1001.2 L924.5 1000.6 L926.0 999.9 L927.4 999.2 L928.8 998.3 L930.2 997.4 L931.6 996.4 L932.9 995.4 L934.2 994.2 L935.5 993.0 L936.9 991.6 L938.2 990.2 L939.6 988.7 L940.5 987.6 L941.5 986.5 L942.4 985.3 L943.4 984.0 L944.4 982.7 L945.3 981.4 L946.3 980.0 L947.3 978.6 L948.2 977.2 L949.2 975.7 L950.1 974.2 L951.0 972.7 L952.0 971.2 L952.9 969.7 L953.8 968.2 L954.6 966.7 L955.5 965.3 L956.3 963.8 L957.1 962.4 L957.9 960.9 L958.6 959.5 L959.4 958.0 L960.1 956.6 L960.8 955.1 L961.5 953.6 L962.2 952.2 L962.9 950.7 L963.6 949.2 L964.2 947.7 L964.9 946.2 L965.5 944.6 L966.2 943.1 L966.8 941.5 L967.4 940.0 L968.1 938.4 L968.6 936.8 L969.4 935.4 L969.5 933.7 L970.7 932.3 L970.4 930.4 L971.9 929.1 L971.6 927.1 L973.0 925.7 L972.5 923.7 L974.1 922.3 L973.3 920.2 L975.4 919.0 L974.2 916.9 L976.5 915.8 L975.5 913.8 L978.4 913.1 L976.6 910.9 L979.7 910.3 L977.6 908.2 L980.9 908.0 L978.0 905.6 L982.4 904.5 L980.4 901.2 L984.3 900.8 L981.3 897.6 L984.8 897.6 L981.2 894.1 L986.7 895.6 L983.0 891.9 L988.4 892.3 L984.2 886.9 L989.3 888.1 L987.8 882.9 L991.0 890.1 L993.3 883.7 L991.4 889.1 L995.8 886.8 L993.1 891.5 L999.6 888.8 L996.3 893.9 L1001.2 892.6 L997.9 897.6 L1004.7 894.3 L1000.8 899.3 L1005.5 897.8 L1001.0 903.3 L1006.9 901.0 L1002.4 906.5 L1008.0 904.4 L1005.1 908.8 L1010.7 906.4 L1006.2 912.2 L1013.2 908.7 L1010.1 913.9 L1016.1 910.8 L1013.1 916.0 L1018.8 912.7 L1016.0 918.2 L1020.6 915.5 L1017.8 921.8 L1023.3 917.1 L1020.5 924.3 L1026.2 918.2 L1024.6 924.4 L1029.0 919.9 L1027.8 925.7 L1033.2 919.2 L1030.5 927.8 L1036.4 920.3 L1033.9 928.4 L1038.0 924.5 L1035.9 931.4 L1041.0 925.5 L1038.4 933.6 L1042.5 929.6 L1042.0 934.5 L1045.6 931.8 L1045.3 935.9 L1048.2 933.6 L1048.7 937.0 L1051.7 934.8 L1052.6 937.8 L1055.3 936.4 L1056.3 938.8 L1058.7 937.8 L1059.5 940.2 L1061.4 939.5 L1062.1 941.1 L1063.3 940.8" stroke="#0000ff"/>
</g>
<g stroke="#000" stroke-width="6.8" fill="none" stroke-linecap="round">
<rect x="136.3" y="314.4" width="931.2" height="757.4" stroke-linejoin="round"/>
<path d="M136.3 1072V1088 M369.1 1072V1088 M601.9 1072V1088 M834.7 1072V1088 M1067.5 1072V1088 M252.7 1072V1081 M485.5 1072V1081 M718.3 1072V1081 M951.1 1072V1081"/>
</g>
<g font-size="51.5" letter-spacing="-2.4" text-anchor="middle">
<text transform="translate(136.2 1128) scale(0.93 1)">0</text>
<text transform="translate(369.0 1128) scale(0.93 1)">1000</text>
<text transform="translate(601.8 1128) scale(0.93 1)">2000</text>
<text transform="translate(834.6 1128) scale(0.93 1)">3000</text>
<text transform="translate(1067.4 1128) scale(0.93 1)">4000</text>
</g>
<g><text font-size="64.0" transform="translate(232.10 304.83) rotate(-90) scale(0.881 1)">T</text>
<text font-size="64.0" transform="translate(232.10 271.48) rotate(-90) scale(1.002 1)">i</text>
<text font-size="64.0" transform="translate(232.10 253.89) rotate(-90) scale(0.997 1)">-</text>
<text font-size="64.0" transform="translate(232.10 232.26) rotate(-90) scale(0.935 1)">O</text>
<text font-size="64.0" transform="translate(232.10 185.63) rotate(-90) scale(0.972 1)">-</text>
<text font-size="64.0" transform="translate(232.10 163.92) rotate(-90) scale(0.862 1)">T</text>
<text font-size="64.0" transform="translate(232.10 131.23) rotate(-90) scale(1.036 1)">i</text>
<text font-size="64.0" transform="translate(316.00 304.83) rotate(-90) scale(0.881 1)">T</text>
<text font-size="64.0" transform="translate(316.00 271.48) rotate(-90) scale(1.002 1)">i</text>
<text font-size="64.0" transform="translate(316.00 253.89) rotate(-90) scale(0.997 1)">-</text>
<text font-size="64.0" transform="translate(316.00 232.26) rotate(-90) scale(0.935 1)">O</text>
<text font-size="64.0" transform="translate(316.00 185.63) rotate(-90) scale(0.972 1)">-</text>
<text font-size="64.0" transform="translate(316.00 163.58) rotate(-90) scale(0.755 1)">C</text>
<text font-size="64.0" transform="translate(411.60 299.02) rotate(-90) scale(0.770 1)">C</text>
<text font-size="64.0" transform="translate(411.60 263.22) rotate(-90) scale(1.046 1)">-</text>
<text font-size="64.0" transform="translate(411.60 241.43) rotate(-90) scale(0.924 1)">O</text>
<text font-size="64.0" transform="translate(482.00 299.02) rotate(-90) scale(0.770 1)">C</text>
<text font-size="64.0" transform="translate(482.00 261.83) rotate(-90) scale(0.879 1)">=</text>
<text font-size="64.0" transform="translate(482.00 228.42) rotate(-90) scale(0.922 1)">O</text>
<text font-size="64.0" transform="translate(542.00 299.13) rotate(-90) scale(0.772 1)">C</text>
<text font-size="64.0" transform="translate(542.00 262.06) rotate(-90) scale(0.888 1)">=</text>
<text font-size="64.0" transform="translate(542.00 228.13) rotate(-90) scale(0.774 1)">C</text>
<text font-size="64.0" transform="translate(542.00 197.51) rotate(-90) scale(1.453 1)">,</text>
<text font-size="64.0" transform="translate(542.00 156.79) rotate(-90) scale(0.909 1)">H</text>
<text font-size="42.7" transform="translate(558.90 113.19) rotate(-90) scale(0.939 1)">2</text>
<text font-size="64.0" transform="translate(542.00 89.43) rotate(-90) scale(0.924 1)">O</text>
<text font-size="64.0" transform="translate(950.00 298.76) rotate(-90) scale(0.901 1)">H</text>
<text font-size="43.0" transform="translate(967.00 254.34) rotate(-90) scale(0.898 1)">2</text>
<text font-size="64.0" transform="translate(950.00 232.43) rotate(-90) scale(0.924 1)">O</text></g>
<g font-size="66">
<text letter-spacing="-2.48" transform="translate(865.5 569.6) scale(0.9 1)">TiO<tspan dy="14">2</tspan></text>
<text letter-spacing="-2.5" transform="translate(786.3 849.4) scale(0.9 1)">TiO<tspan dy="14">2</tspan><tspan dy="-14">-GO</tspan></text>
<text letter-spacing="-2.63" transform="translate(758.5 1045.4) scale(0.9 1)">TiO<tspan dy="14">2</tspan><tspan dy="-14">-RGO</tspan></text>
</g>
<text font-size="67" letter-spacing="-1.47" transform="translate(76 949) rotate(-90) scale(0.9 1)">Transmittance (a.u.)</text>
<text font-size="67" letter-spacing="-3.96" transform="translate(364.7 1212) scale(0.9 1)">Wavenumber</text>
<text font-size="49.3" stroke="#000" stroke-width="1.2" transform="translate(723.3 1211.7) scale(0.88 1)">(</text>
<text font-size="67" transform="translate(737.1 1212.5) scale(0.89 1)">c</text>
<text font-size="67" transform="translate(768 1212.5) scale(0.925 1)">m</text>
<rect x="819.4" y="1172.2" width="16.4" height="8.5" fill="#000"/>
<path fill="#000" d="M852.3 1146.9L859.2 1146.9L859.2 1192.7L851 1192.7L851 1160.2Q846.5 1164 840.3 1166.2L840.3 1158.3Q848 1154.5 852.3 1146.9Z"/>
<text font-size="49.3" stroke="#000" stroke-width="1.2" transform="translate(867.2 1211.7) scale(0.88 1)">)</text>
</svg>
</body></html>
